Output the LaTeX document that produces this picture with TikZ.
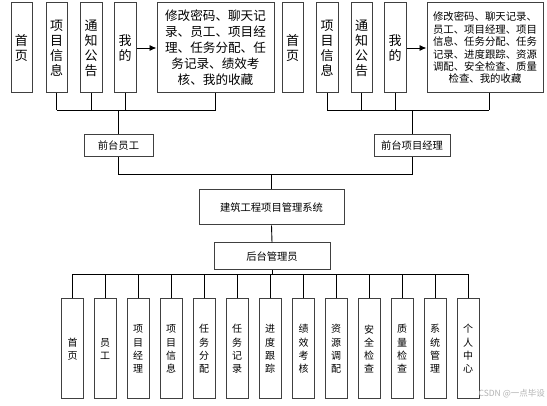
\documentclass[tikz,border=0pt]{standalone}
\usepackage{fontspec}
\newfontfamily\cjk{Noto Sans CJK SC}
\usetikzlibrary{arrows.meta,calc}
\tikzset{
  box/.style={draw=black!75, line width=1pt, fill=white, inner sep=0pt, align=center},
  vbox/.style={box, minimum width=21pt, minimum height=90pt, font=\cjk\fontsize{13}{15}\selectfont},
  bbox/.style={box, minimum width=22pt, minimum height=100pt, font=\cjk\fontsize{10}{13.3}\selectfont},
  hbox/.style={box, font=\cjk\fontsize{10.3}{12}\selectfont},
  conn/.style={line width=0.9pt, black},
  arr/.style={conn, -{Latex[length=7pt,width=6pt]}}
}
\begin{document}
\begin{tikzpicture}[x=1pt,y=-1pt]
\useasboundingbox (0,0) rectangle (547,406);
% top left group
\node[vbox] (tl1) at (21.5,48) {首\\页};
\node[vbox] (tl2) at (56.5,48) {项\\目\\信\\息};
\node[vbox, minimum width=22pt] (tl3) at (91,48) {通\\知\\公\\告};
\node[vbox, minimum width=22pt] (tl4) at (125,48) {我\\的};
\node[box, minimum width=117pt, minimum height=90pt, font=\cjk\fontsize{12.6}{16}\selectfont] (tl5) at (215.5,48)
  {修改密码、聊天记\\录、员工、项目经\\理、任务分配、任\\务记录、绩效考\\核、我的收藏};
% top right group
\node[vbox] (tr1) at (292.5,48) {首\\页};
\node[vbox, minimum width=22pt] (tr2) at (327,48) {项\\目\\信\\息};
\node[vbox] (tr3) at (361.5,48) {通\\知\\公\\告};
\node[vbox, minimum width=22pt] (tr4) at (395,48) {我\\的};
\node[box, minimum width=116pt, minimum height=90pt, font=\cjk\fontsize{10.4}{12.4}\selectfont] (tr5) at (485,48)
  {修改密码、聊天记录、\\员工、项目经理、项目\\信息、任务分配、任务\\记录、进度跟踪、资源\\调配、安全检查、质量\\检查、我的收藏};
% arrows
\draw[arr] (tl4.east) -- (tl5.west);
\draw[arr] (tr4.east) -- (tr5.west);
% middle
\node[hbox, minimum width=69pt, minimum height=22pt] (fe) at (118.5,146) {前台员工};
\node[hbox, minimum width=76pt, minimum height=22pt] (fm) at (412,146) {前台项目经理};
\node[hbox, minimum width=145pt, minimum height=35pt] (sys) at (271.5,207.5) {建筑工程项目管理系统};
\node[hbox, minimum width=116pt, minimum height=27pt] (adm) at (272,256.5) {后台管理员};
% top-left connectors
\coordinate (jl) at (118.5,110);
\draw[conn] (tl2.south) -- (tl2.south |- jl);
\draw[conn] (tl3.south) -- (tl3.south |- jl);
\draw[conn] (tl4.south) -- (tl4.south |- jl);
\draw[conn] (tl5.south) -- (tl5.south |- jl);
\draw[conn] (tl2.south |- jl) -- (tl5.south |- jl);
\draw[conn] (fe.north) -- (jl);
% top-right connectors
\coordinate (jr) at (412,110);
\coordinate (tr5b) at ($(tr5.south)+(4,0)$);
\draw[conn] (tr2.south) -- (tr2.south |- jr);
\draw[conn] (tr3.south) -- (tr3.south |- jr);
\draw[conn] (tr4.south) -- (tr4.south |- jr);
\draw[conn] (tr5b) -- (tr5b |- jr);
\draw[conn] (tr2.south |- jr) -- (tr5b |- jr);
\draw[conn] (fm.north) -- (jr);
% middle connectors
\coordinate (jm) at (271.5,174);
\draw[conn] (fe.south) -- (fe.south |- jm) -- (fm.south |- jm) -- (fm.south);
\draw[conn] (sys.north) -- (jm);
\draw[conn] (sys.south) -- (adm.north);
% bottom boxes
\node[bbox] (b1) at (72.5,349) {首\\页};
\node[bbox] (b2) at (105,349) {员\\工};
\node[bbox] (b3) at (138,349) {项\\目\\经\\理};
\node[bbox] (b4) at (171,349) {项\\目\\信\\息};
\node[bbox] (b5) at (204,349) {任\\务\\分\\配};
\node[bbox] (b6) at (237,349) {任\\务\\记\\录};
\node[bbox] (b7) at (270,349) {进\\度\\跟\\踪};
\node[bbox] (b8) at (303.5,349) {绩\\效\\考\\核};
\node[bbox] (b9) at (336,349) {资\\源\\调\\配};
\node[bbox] (b10) at (369,349) {安\\全\\检\\查};
\node[bbox] (b11) at (402,349) {质\\量\\检\\查};
\node[bbox] (b12) at (435,349) {系\\统\\管\\理};
\node[bbox] (b13) at (468,349) {个\\人\\中\\心};
\coordinate (jb) at (272,274);
\draw[conn] (adm.south) -- (jb);
\draw[conn] (b1.north |- jb) -- (b13.north |- jb);
\foreach \i in {1,...,13} {\draw[conn] (b\i.north) -- (b\i.north |- jb);}
% watermark
\node[text=black!30, font=\cjk\fontsize{8.5}{10}\selectfont, anchor=east, inner sep=0pt] (wm) at (545,394) {CSDN @一点毕设};
\end{tikzpicture}
\end{document}
